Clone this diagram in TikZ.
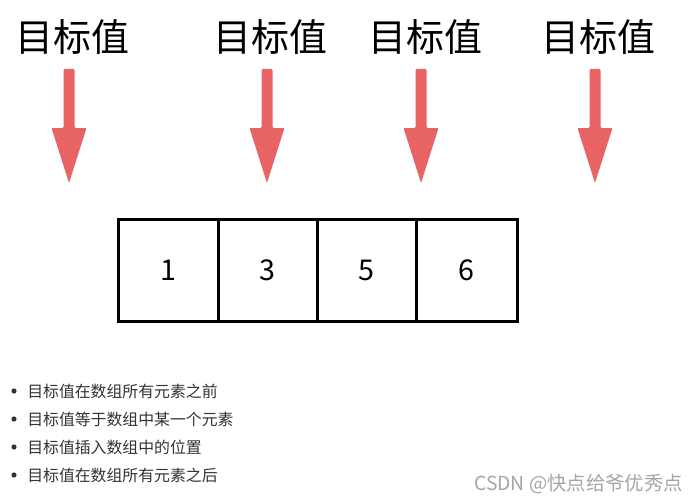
\documentclass[tikz,border=0pt]{standalone}
\usepackage{fontspec}
\setmainfont{Noto Sans CJK SC}
\definecolor{arrowred}{RGB}{232,99,100}
\definecolor{listgray}{RGB}{51,51,51}
\definecolor{wmgray}{RGB}{165,165,165}
\tikzset{
  titletext/.style={font=\fontsize{28.5}{28.5}\selectfont, inner sep=0pt, text=black},
  downarrow/.style={fill=arrowred, rounded corners=0.8pt},
  cell/.style={draw=black, line width=2.25pt, minimum width=74.6pt, minimum height=76.5pt, inner sep=0pt, font=\fontsize{21.5}{21.5}\selectfont},
  listitem/.style={anchor=west, inner sep=0pt, text=listgray, font=\fontsize{11.9}{11.9}\selectfont},
  bulletdot/.style={fill=listgray},
  watermark/.style={anchor=east, inner sep=0pt, text=wmgray, font=\fontsize{14.5}{14.5}\selectfont}
}
\begin{document}
\begin{tikzpicture}[x=0.75pt,y=-0.75pt]
\useasboundingbox (0,0) rectangle (699,503);
% titles
\node[titletext] (t1) at (73,37) {目标值};
\node[titletext] (t2) at (270,37) {目标值};
\node[titletext] (t3) at (425,37) {目标值};
\node[titletext] (t4) at (598,37) {目标值};
% arrows
\foreach \i/\c in {1/69,2/267,3/421,4/595}{
  \coordinate (a\i) at (\c,183);
  \begin{scope}[shift={(\c,0)}]
    \fill[downarrow] (-5.5,69) -- (5.5,69) -- (5.5,128) -- (17.5,128) -- (0,183) -- (-17.5,128) -- (-5.5,128) -- cycle;
  \end{scope}
}
% cells
\node[cell, minimum width=75pt] (c1) at (168,270) {1};
\node[cell, minimum width=74.25pt] (c2) at (267.5,270) {3};
\node[cell, minimum width=74.25pt] (c3) at (366.5,270) {5};
\node[cell, minimum width=75.75pt] (c4) at (466.5,270) {6};
% list
\foreach \i/\y/\t in {1/391/目标值在数组所有元素之前, 2/419/目标值等于数组中某一个元素, 3/447/目标值插入数组中的位置, 4/475/目标值在数组所有元素之后}{
  \fill[bulletdot] (14,\y) circle (2.6);
  \node[listitem] (l\i) at (27,\y) {\t};
}
\node[watermark] (wm) at (683,484) {CSDN @快点给爷优秀点};
\end{tikzpicture}
\end{document}
